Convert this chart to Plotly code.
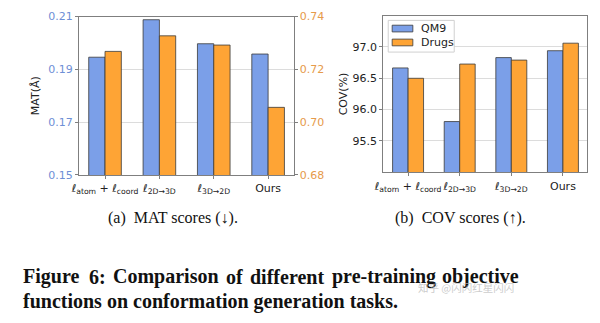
import plotly.graph_objects as go

categories = [
    "<i>ℓ</i><sub>atom</sub> + <i>ℓ</i><sub>coord</sub>",
    "<i>ℓ</i><sub>2D→3D</sub>",
    "<i>ℓ</i><sub>3D→2D</sub>",
    "Ours",
]
mat_qm9 = [0.1946, 0.2088, 0.1997, 0.1958]
mat_drugs = [0.7268, 0.7327, 0.7292, 0.7056]
cov_qm9 = [96.665, 95.81, 96.83, 96.94]
cov_drugs = [96.50, 96.727, 96.79, 97.06]
mat_ticks = [0.15, 0.17, 0.19, 0.21]
mat_ticks2 = [0.68, 0.70, 0.72, 0.74]
cov_ticks = [95.5, 96.0, 96.5, 97.0]
series_names = ["QM9", "Drugs"]
caption_words = ["Figure", "6:", "Comparison", "of", "different", "pre-training", "objective"]
caption_word_x = [12, 79, 104, 218, 243, 326, 438]

BLUE = "#7b9fe8"
ORANGE = "#fea435"
EDGE = "#3a3a3a"
BLUE_TXT = "#6e8fd6"
ORANGE_TXT = "#e69a4a"
SPINE = "#7f7f7f"
FONT = "DejaVu Sans"
SERIF = "Liberation Serif"

fig = go.Figure()

bar_line = dict(color=EDGE, width=0.8)
fig.add_trace(go.Bar(x=categories, y=mat_qm9, name=series_names[0], marker=dict(color=BLUE, line=bar_line),
                     offset=-0.3, width=0.3, xaxis="x", yaxis="y"))
fig.add_trace(go.Bar(x=categories, y=mat_drugs, name=series_names[1], marker=dict(color=ORANGE, line=bar_line),
                     offset=0.0, width=0.3, xaxis="x", yaxis="y2"))
fig.add_trace(go.Bar(x=categories, y=cov_qm9, name=series_names[0], marker=dict(color=BLUE, line=bar_line),
                     offset=-0.3, width=0.3, xaxis="x3", yaxis="y3"))
fig.add_trace(go.Bar(x=categories, y=cov_drugs, name=series_names[1], marker=dict(color=ORANGE, line=bar_line),
                     offset=0.0, width=0.3, xaxis="x3", yaxis="y3"))

axis_common = dict(showline=True, linecolor=SPINE, linewidth=1, mirror=True,
                   ticks="outside", ticklen=3, tickcolor=SPINE, zeroline=False)

fig.update_layout(
    width=600, height=323, autosize=False,
    margin=dict(l=0, r=0, t=0, b=0),
    paper_bgcolor="white", plot_bgcolor="white",
    font=dict(family=FONT, size=11, color="#222"),
    showlegend=False,
    xaxis=dict(domain=[71/600, 289/600], anchor="y", range=[-0.48, 3.47], showgrid=False,
               tickangle=0, tickfont=dict(size=11, color="#222"), **axis_common),
    yaxis=dict(domain=[1-176/323, 1-11/323], anchor="x", range=[0.15, 0.21],
               tickvals=mat_ticks, tickformat=".2f", showgrid=True, gridcolor="#dcdcdc",
               tickfont=dict(size=11, color=BLUE_TXT),
               title=dict(text="MAT(Å)", font=dict(size=11, color="#222"), standoff=6),
               **axis_common),
    yaxis2=dict(overlaying="y", anchor="x", side="right", range=[0.68, 0.74],
                tickvals=mat_ticks2, tickformat=".2f", showgrid=False, zeroline=False,
                ticks="outside", ticklen=3, tickcolor=SPINE,
                tickfont=dict(size=11, color=ORANGE_TXT)),
    xaxis3=dict(domain=[380/600, 587/600], anchor="y3", range=[-0.48, 3.47], showgrid=False,
                tickangle=0, tickfont=dict(size=11, color="#222"), **axis_common),
    yaxis3=dict(domain=[1-173.3/323, 1-10/323], anchor="x3", range=[95.0, 97.5],
                tickvals=cov_ticks, tickformat=".1f", showgrid=True, gridcolor="#dcdcdc",
                tickfont=dict(size=11, color="#222"),
                title=dict(text="COV(%)", font=dict(size=11, color="#222"), standoff=2),
                **axis_common),
    barmode="overlay",
)

# legend box (drawn in paper space, matplotlib style)
def px(x):
    return x / 600

def py(y):
    return 1 - y / 323

fig.add_shape(type="rect", xref="paper", yref="paper", x0=px(385), x1=px(452), y0=py(15), y1=py(48),
              line=dict(color="#d0d0d0", width=1), fillcolor="white", layer="above")
for i, (nm, col) in enumerate(zip(series_names, [BLUE, ORANGE])):
    yc = 23.5 + i * 14.5
    fig.add_shape(type="rect", xref="paper", yref="paper", x0=px(389), x1=px(410),
                  y0=py(yc - 3.5), y1=py(yc + 3.5), line=dict(color=EDGE, width=0.8),
                  fillcolor=col, layer="above")
    fig.add_annotation(text=nm, x=px(416), y=py(yc), xref="paper", yref="paper",
                       xanchor="left", yanchor="middle", showarrow=False,
                       font=dict(family=FONT, size=11, color="#222"))

fig.add_annotation(text="(a)  MAT scores (↓).", x=px(167), y=py(221), xref="paper", yref="paper",
                   xanchor="center", yanchor="middle",
                   showarrow=False, font=dict(family=SERIF, size=16, color="#111"))
fig.add_annotation(text="(b)  COV scores (↑).", x=px(458), y=py(221), xref="paper", yref="paper",
                   xanchor="center", yanchor="middle",
                   showarrow=False, font=dict(family=SERIF, size=16, color="#111"))
for w, xx in zip(caption_words, caption_word_x):
    fig.add_annotation(text=f"<b>{w}</b>", x=px(xx), y=py(282), xref="paper", yref="paper",
                       xanchor="left", yanchor="middle", showarrow=False,
                       font=dict(family=SERIF, size=20, color="#111"))
fig.add_annotation(text="<b>functions on conformation generation tasks.</b>",
                   x=px(12), y=py(308), xref="paper", yref="paper", xanchor="left", yanchor="middle",
                   showarrow=False, font=dict(family=SERIF, size=20, color="#111"))
fig.add_annotation(text="知乎 @闪闪红星闪闪", x=px(413), y=py(293), xref="paper", yref="paper",
                   xanchor="left", yanchor="middle", showarrow=False,
                   font=dict(family="Noto Sans CJK SC", size=10.5, color="rgba(190,190,190,0.8)"))

fig.write_html("out.html")
